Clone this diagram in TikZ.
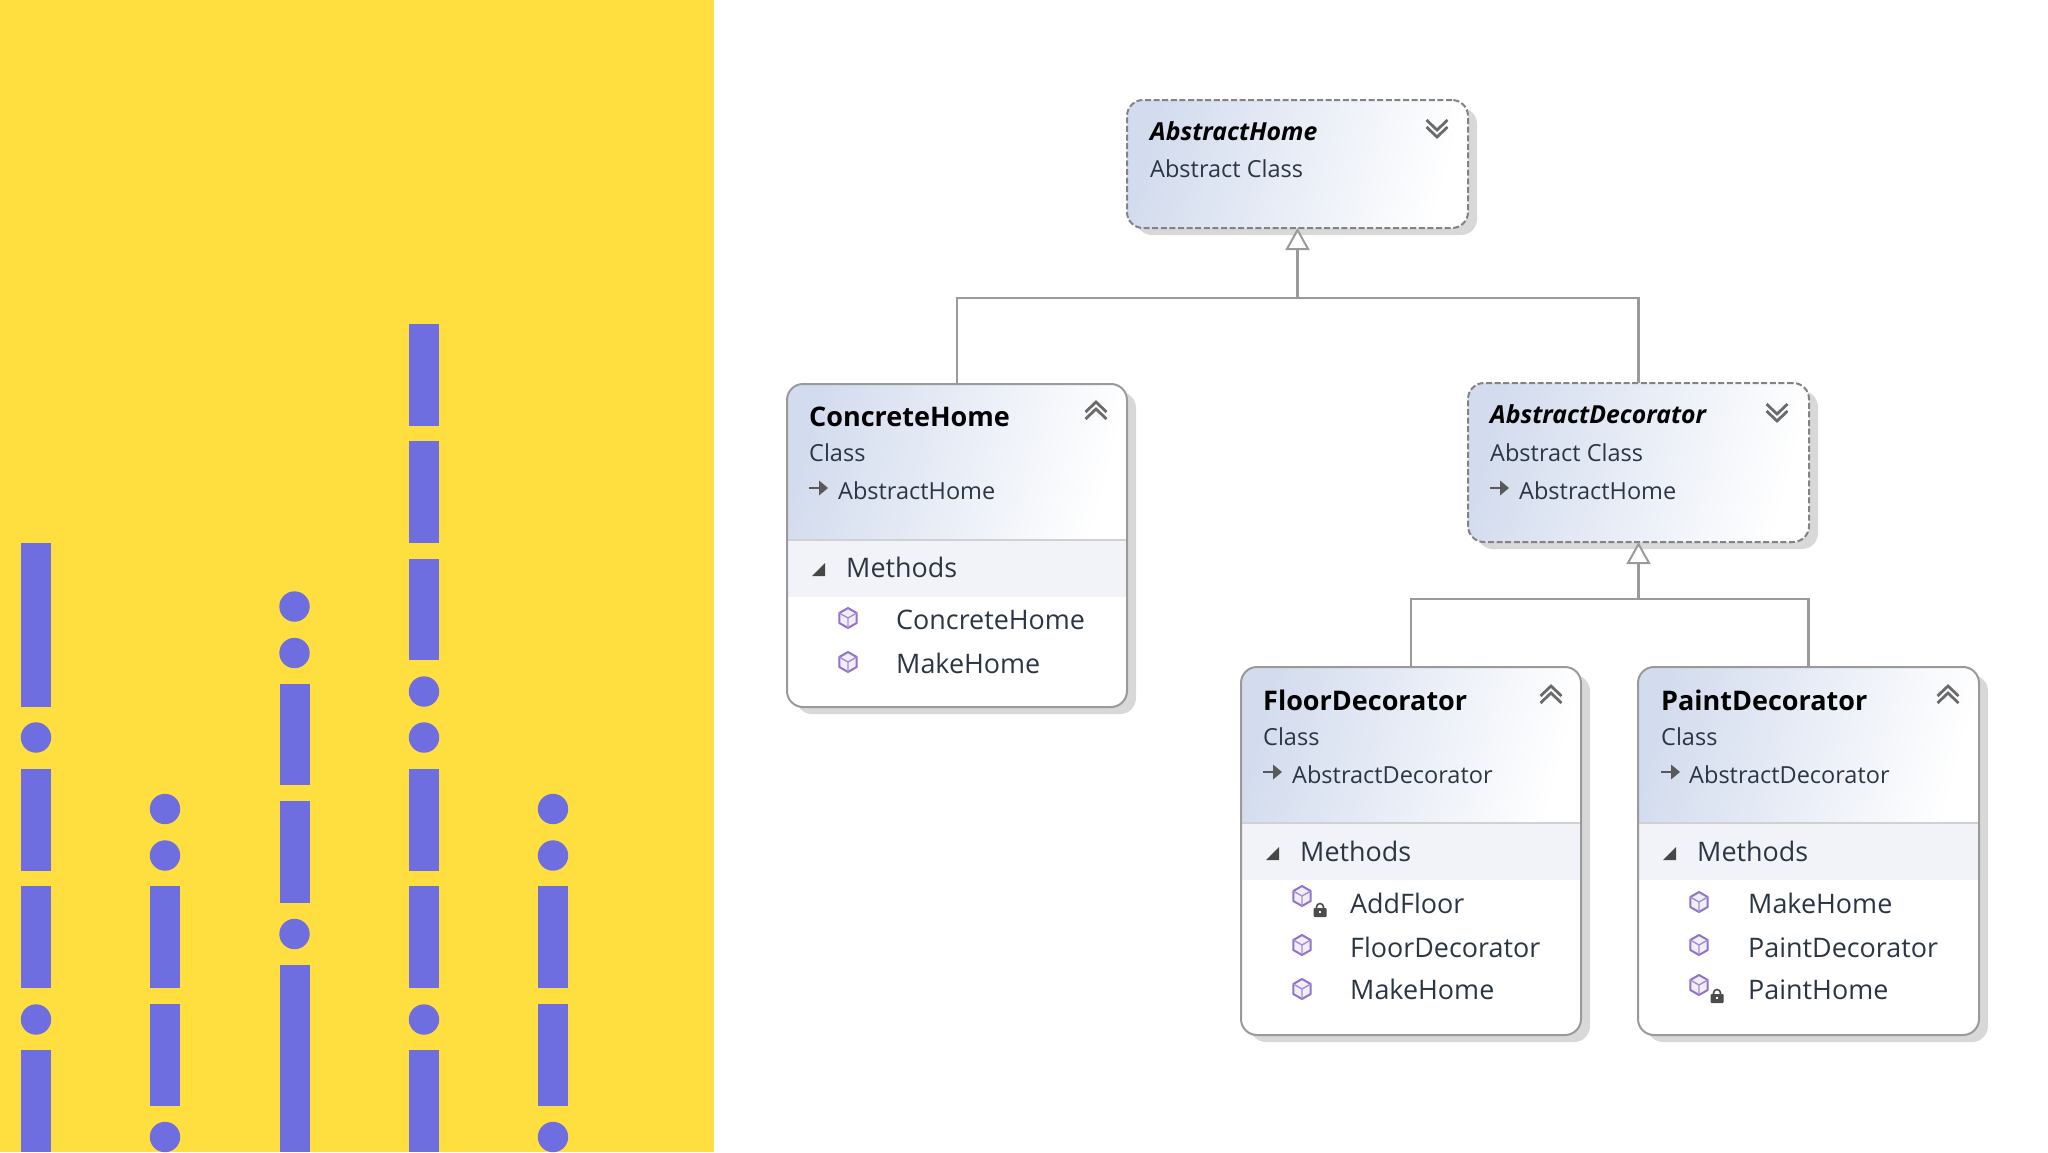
\documentclass[tikz,border=0pt]{standalone}
\usepackage{fontspec}
\setmainfont{Open Sans}
\usetikzlibrary{arrows.meta}
\definecolor{yel}{HTML}{FFDF40}
\definecolor{pur}{HTML}{6E6EE0}
\definecolor{edge}{HTML}{9A9A9A}
\definecolor{shad}{HTML}{D8D8D8}
\definecolor{band}{HTML}{F1F3F8}
\definecolor{hdA}{HTML}{D3DCEE}
\definecolor{hdB}{HTML}{EBEFF9}
\definecolor{ink}{HTML}{2B3644}
\definecolor{cube}{HTML}{8F73C8}
\tikzset{
  card/.style={draw=edge,line width=2pt,rounded corners=16pt,inner sep=0pt,outer sep=0pt,rectangle},
  dashcard/.style={card,draw=edge!85!black,dash pattern=on 6pt off 2.6pt},
  plaincard/.style={card},
  conn/.style={draw=edge,line width=2.4pt},
  nm/.style={anchor=base west,inner sep=0pt,font=\fontsize{27}{28}\selectfont\bfseries,text=black},
  ab/.style={anchor=base west,inner sep=0pt,font=\fontsize{24.8}{26}\selectfont\bfseries\itshape,text=black},
  tx/.style={anchor=base west,inner sep=0pt,font=\fontsize{23.5}{26}\selectfont,text=ink},
  mt/.style={anchor=base west,inner sep=0pt,font=\fontsize{26.9}{29}\selectfont,text=ink},
  me/.style={anchor=base west,inner sep=0pt,font=\fontsize{26.9}{29}\selectfont,text=ink}
}
\newcommand{\umlcard}[7]{%
  \fill[shad,rounded corners=16pt] (#2+9,#3+8) rectangle (#4+9,#5+7);
  \fill[white,rounded corners=16pt] (#2,#3) rectangle (#4,#5);
  \begin{scope}
    \clip[rounded corners=16pt] (#2,#3) rectangle (#4,#5);
    \shade[left color=hdA,middle color=hdB,right color=white,shading angle=75] (#2,#3) rectangle (#4,#6);
    \ifdim #6pt<#5pt
      \fill[band] (#2,#6) rectangle (#4,#6+57);
      \draw[line width=1.2pt,draw=black!18] (#2,#6) -- (#4,#6);
    \fi
  \end{scope}
  \node[#7,minimum width={#4-#2},minimum height={#5-#3}] (#1) at ({(#2+#4)/2},{(#3+#5)/2}) {};
}
\newcommand{\barseg}[3]{\fill[pur] (#1,#2) rectangle (#1+30,#3);}
\newcommand{\dotseg}[2]{\fill[pur] (#1+15,#2) circle (15.2);}
\newcommand{\cubeicon}[2]{%
  \begin{scope}[shift={(#1,#2)}]
    \draw[cube,line width=2pt,line join=round,fill=cube!12] (0,-10)--(8.7,-5)--(8.7,5)--(0,10)--(-8.7,5)--(-8.7,-5)--cycle;
    \draw[cube!80,line width=1.4pt] (-8.7,-5)--(0,0)--(8.7,-5) (0,0)--(0,10);
  \end{scope}}
\newcommand{\lockicon}[2]{%
  \begin{scope}[shift={(#1,#2)}]
    \draw[black!70,line width=1.6pt] (-3.5,-2) -- (-3.5,-3) arc (180:360:3.5) -- (3.5,-2);
    \fill[black!70,rounded corners=1pt] (-6.5,-2) rectangle (6.5,7);
    \fill[white] (-1.4,0.5) rectangle (1.4,3);
  \end{scope}}
\newcommand{\chevup}[2]{%
  \begin{scope}[shift={(#1,#2)}]
    \draw[black!58,line width=2.8pt] (-10.5,1)--(0,-9)--(10.5,1);
    \draw[black!58,line width=2.8pt] (-10.5,8)--(0,-2)--(10.5,8);
  \end{scope}}
\newcommand{\chevdn}[2]{%
  \begin{scope}[shift={(#1,#2)}]
    \draw[black!58,line width=2.8pt] (-10.5,-8)--(0,2)--(10.5,-8);
    \draw[black!58,line width=2.8pt] (-10.5,-1)--(0,9)--(10.5,-1);
  \end{scope}}
\newcommand{\inhicon}[2]{%
  \begin{scope}[shift={(#1,#2)}]
    \draw[black!65,line width=2.4pt] (0,0)--(12,0);
    \fill[black!65] (10,-7.5)--(19,0)--(10,7.5)--cycle;
  \end{scope}}
\newcommand{\methtri}[2]{\fill[black!72] (#1,#2+13)--(#1+13,#2+13)--(#1+13,#2)--cycle;}
\begin{document}
\begin{tikzpicture}[x=1pt,y=-1pt]
\useasboundingbox (0,0) rectangle (2048,1152);
\fill[white] (0,0) rectangle (2048,1152);
\fill[yel] (0,0) rectangle (714,1152);
% column 1
\barseg{21}{543}{706.5}\dotseg{21}{737.5}\barseg{21}{769}{870.6}\barseg{21}{886}{988}\dotseg{21}{1019.5}\barseg{21}{1050}{1152}
% column 2
\dotseg{150}{809}\dotseg{150}{855.5}\barseg{150}{886}{988}\barseg{150}{1004}{1105.5}\dotseg{150}{1137}
% column 3
\dotseg{279.5}{606.5}\dotseg{279.5}{653}\barseg{279.5}{684}{785}\barseg{279.5}{801}{903}\dotseg{279.5}{934}\barseg{279.5}{965}{1152}
% column 4
\barseg{409}{324}{425.5}\barseg{409}{441}{543}\barseg{409}{559}{660}\dotseg{409}{691.5}\dotseg{409}{737.5}\barseg{409}{769}{870.6}\barseg{409}{886}{988}\dotseg{409}{1019.5}\barseg{409}{1050}{1152}
% column 5
\dotseg{538}{809}\dotseg{538}{855.5}\barseg{538}{886}{988}\barseg{538}{1004}{1105.5}\dotseg{538}{1137}
% cards
\umlcard{home}{1127}{100}{1468}{228}{228}{dashcard}
\umlcard{concrete}{787}{384}{1127}{707}{540}{plaincard}
\umlcard{decorator}{1468}{383}{1809}{542}{542}{dashcard}
\umlcard{floor}{1241}{667}{1581}{1035}{823}{plaincard}
\umlcard{paint}{1638}{667}{1979}{1035}{823}{plaincard}
% connectors
\coordinate (j1) at (home.south |- 0,298);
\coordinate (j2) at (decorator.south |- 0,599);
\draw[conn] (concrete.north) |- (j1);
\draw[conn] (decorator.north) |- (j1);
\draw[conn,-{Triangle[open,fill=white,length=22pt,width=24pt,line width=2pt]}] (j1) -- (home.south);
\draw[conn] (floor.north) |- (j2);
\draw[conn] (paint.north) |- (j2);
\draw[conn,-{Triangle[open,fill=white,length=22pt,width=24pt,line width=2pt]}] (j2) -- (decorator.south);
% AbstractHome
\node[ab] (homeName) at (1150,140) {AbstractHome};
\node[tx] (homeKind) at (1150,177) {Abstract Class};
\chevdn{1437}{128}
% ConcreteHome
\node[nm] (concName) at (809,426) {ConcreteHome};
\node[tx] (concKind) at (809,461) {Class};
\inhicon{809}{488}
\node[tx] (concBase) at (838,499) {AbstractHome};
\methtri{812}{563}
\node[mt] (concMeth) at (846,577) {Methods};
\cubeicon{848}{618}
\node[me] (concM1) at (896,629) {ConcreteHome};
\cubeicon{848}{662}
\node[me] (concM2) at (896,673) {MakeHome};
\chevup{1096}{411}
% AbstractDecorator
\node[ab] (decName) at (1490,423) {AbstractDecorator};
\node[tx] (decKind) at (1490,461) {Abstract Class};
\inhicon{1490}{488}
\node[tx] (decBase) at (1519,499) {AbstractHome};
\chevdn{1777}{412}
% FloorDecorator
\node[nm] (floorName) at (1263,710) {FloorDecorator};
\node[tx] (floorKind) at (1263,745) {Class};
\inhicon{1263}{772}
\node[tx] (floorBase) at (1292,783) {AbstractDecorator};
\methtri{1266}{847}
\node[mt] (floorMeth) at (1300,861) {Methods};
\cubeicon{1302}{896}
\lockicon{1320}{910}
\node[me] (floorM1) at (1350,913) {AddFloor};
\cubeicon{1302}{945}
\node[me] (floorM2) at (1350,957) {FloorDecorator};
\cubeicon{1302}{989}
\node[me] (floorM3) at (1350,999) {MakeHome};
\chevup{1551}{695}
% PaintDecorator
\node[nm] (paintName) at (1661,710) {PaintDecorator};
\node[tx] (paintKind) at (1661,745) {Class};
\inhicon{1661}{772}
\node[tx] (paintBase) at (1689,783) {AbstractDecorator};
\methtri{1663}{847}
\node[mt] (paintMeth) at (1697,861) {Methods};
\cubeicon{1699}{902}
\node[me] (paintM1) at (1748,913) {MakeHome};
\cubeicon{1699}{945}
\node[me] (paintM2) at (1748,957) {PaintDecorator};
\cubeicon{1699}{985}
\lockicon{1717}{996}
\node[me] (paintM3) at (1748,999) {PaintHome};
\chevup{1948}{695}
\end{tikzpicture}
\end{document}
